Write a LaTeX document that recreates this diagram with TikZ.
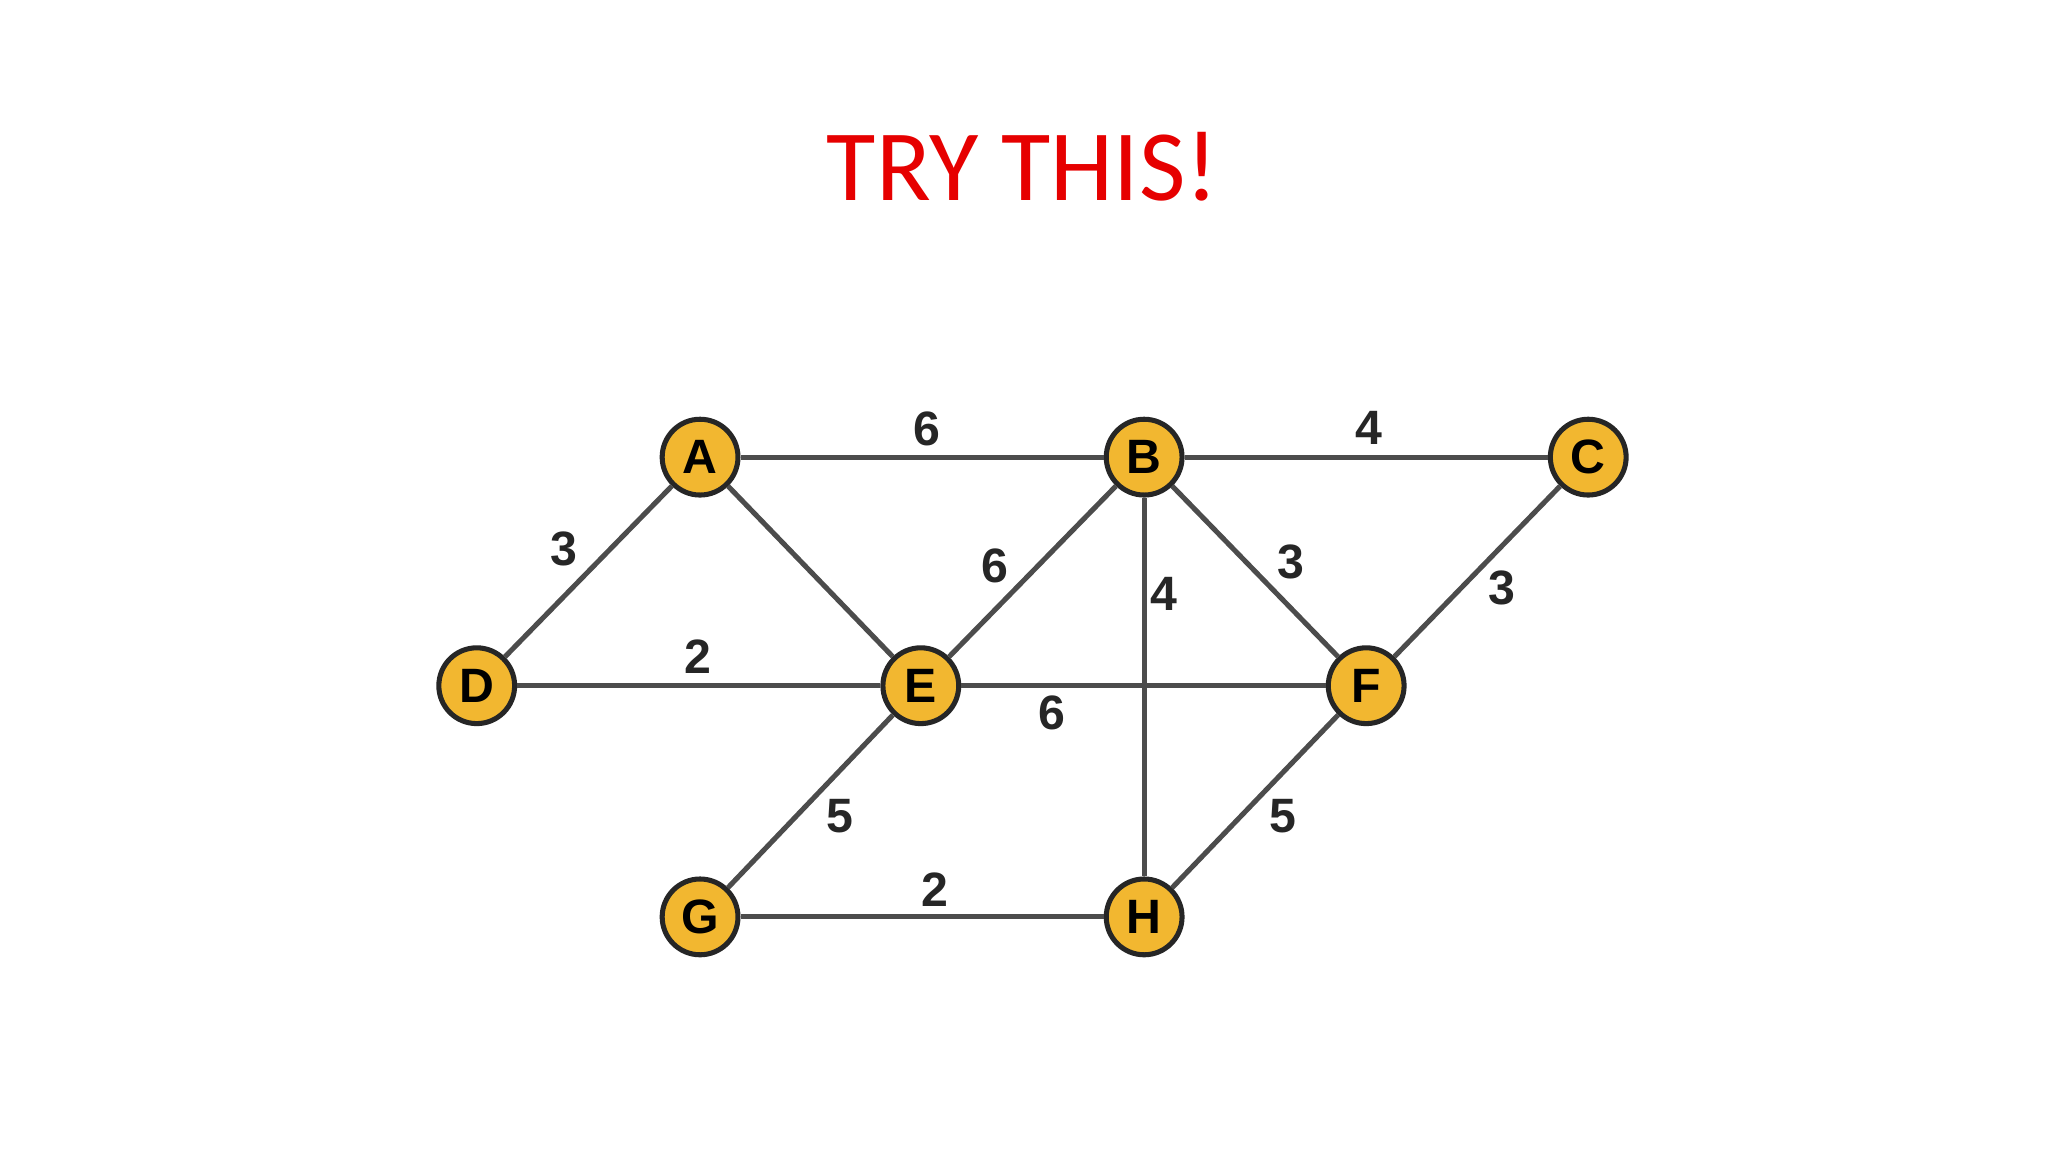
\documentclass[tikz,border=0pt]{standalone}
\usepackage{fontspec}
\setmainfont{Liberation Sans}
\newfontfamily\titlefont{Carlito}
\begin{document}
\begin{tikzpicture}[x=0.01cm,y=-0.01cm,
  vtx/.style={circle,draw=black!85,line width=1.1pt,fill={rgb,255:red,242;green,183;blue,48},minimum size=0.58cm,inner sep=0pt,font=\bfseries\fontsize{10.5}{12}\selectfont},
  edge/.style={draw=black!70,line width=1.1pt},
  wt/.style={font=\bfseries\fontsize{10.5}{12}\selectfont,text=black!85}]
\useasboundingbox (0,0) rectangle (1568,882);
\fill[white] (0,0) rectangle (1568,882);
\node[font=\titlefont\fontsize{22}{26}\selectfont,text={rgb,255:red,230;green,0;blue,0}] (title) at (783,128) {TRY THIS!};
\coordinate (pA) at (536,350);
\node[vtx] (A) at (536,350) {A};
\node[vtx] (B) at (876,350) {B};
\node[vtx] (C) at (1216,350) {C};
\node[vtx] (D) at (365,525) {D};
\node[vtx] (E) at (705,525) {E};
\node[vtx] (F) at (1046,525) {F};
\node[vtx] (G) at (536,702) {G};
\node[vtx] (H) at (876,702) {H};
\begin{scope}[on background layer/.try]
\end{scope}
\draw[edge] (A) -- (B);
\draw[edge] (B) -- (C);
\draw[edge] (A) -- (D);
\draw[edge] (A) -- (E);
\draw[edge] (D) -- (E);
\draw[edge] (E) -- (B);
\draw[edge] (B) -- (H);
\draw[edge] (B) -- (F);
\draw[edge] (C) -- (F);
\draw[edge] (E) -- (F);
\draw[edge] (E) -- (G);
\draw[edge] (G) -- (H);
\draw[edge] (H) -- (F);
\node[wt] (w1) at (710,328) {6};
\node[wt] (w2) at (1048,328) {4};
\node[wt] (w3) at (432,420) {3};
\node[wt] (w4) at (762,433) {6};
\node[wt] (w5) at (891,455) {4};
\node[wt] (w6) at (988,430) {3};
\node[wt] (w7) at (1150,450) {3};
\node[wt] (w8) at (534,503) {2};
\node[wt] (w9) at (805,546) {6};
\node[wt] (w10) at (643,625) {5};
\node[wt] (w11) at (716,681) {2};
\node[wt] (w12) at (982,625) {5};
\end{tikzpicture}
\end{document}
